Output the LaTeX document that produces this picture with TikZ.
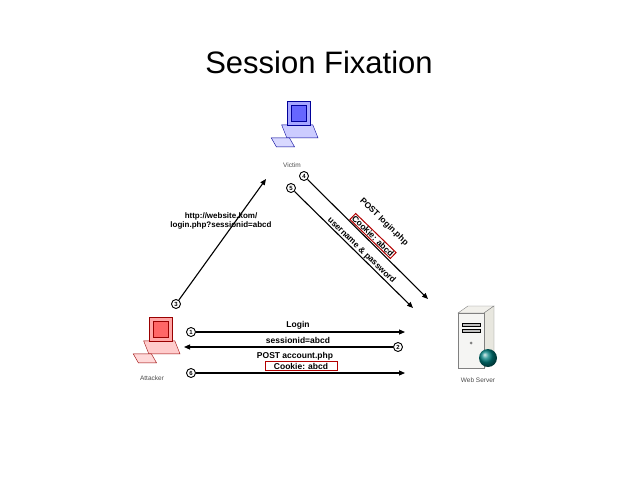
\documentclass[tikz,border=0pt]{standalone}
\usepackage{fontspec}
\setmainfont{Liberation Sans}
\usetikzlibrary{arrows.meta}
\begin{document}
\begin{tikzpicture}[x=1pt,y=-1pt,
  num/.style={circle,draw,line width=0.9pt,inner sep=0pt,minimum size=9pt,font=\fontsize{6}{6}\selectfont\bfseries},
  lbl/.style={font=\fontsize{8.5}{9}\selectfont\bfseries,inner sep=0.5pt},
  dlbl/.style={font=\fontsize{8.5}{8.5}\selectfont\bfseries,inner sep=0.5pt,rotate=-44},
  small/.style={font=\fontsize{6.5}{7}\selectfont,text=black!70},
  redbox/.style={draw=red!70!black,line width=1pt,inner sep=1pt},
  arr/.style={line width=1.1pt,-{Triangle[length=6pt,width=5pt]}}]
\useasboundingbox (0,0) rectangle (638,479);
\node (title) at (319,62) {\fontsize{31}{34}\selectfont Session Fixation};
% Victim icon
\begin{scope}[shift={(292,130)},scale=1.3]
 \draw[fill=blue!20,draw=blue!60!black] (-8,-4) -- (16,-4) -- (20,6) -- (-4,6) -- cycle;
 \draw[fill=blue!35,draw=blue!60!black] (-4,-22) rectangle (14,-4);
 \draw[fill=blue!60,draw=blue!60!black] (-1,-19) rectangle (11,-7);
 \draw[fill=blue!15,draw=blue!60!black] (-16,6) -- (-2,6) -- (2,13) -- (-12,13) -- cycle;
\end{scope}
\node[small] (victim) at (292,165) {Victim};
% Attacker icon
\begin{scope}[shift={(154,346)},scale=1.3]
 \draw[fill=red!20,draw=red!60!black] (-8,-4) -- (16,-4) -- (20,6) -- (-4,6) -- cycle;
 \draw[fill=red!35,draw=red!60!black] (-4,-22) rectangle (14,-4);
 \draw[fill=red!60,draw=red!60!black] (-1,-19) rectangle (11,-7);
 \draw[fill=red!15,draw=red!60!black] (-16,6) -- (-2,6) -- (2,13) -- (-12,13) -- cycle;
\end{scope}
\node[small] (attacker) at (152,378) {Attacker};
% Server icon
\begin{scope}[shift={(476,338)}]
 \draw[fill=yellow!15!gray!15,draw=gray] (-18,-25) -- (-8,-32) -- (18,-32) -- (8,-25) -- cycle;
 \draw[fill=yellow!15!gray!25,draw=gray] (8,-25) -- (18,-32) -- (18,22) -- (8,30) -- cycle;
 \draw[fill=yellow!10!gray!10,draw=gray] (-18,-25) rectangle (8,30);
 \draw[fill=gray!50] (-14,-15) rectangle (4,-12);
 \draw[fill=gray!50] (-14,-9) rectangle (4,-6);
 \fill[gray] (-5,5) circle (1.5);
 \shade[ball color=green!50!blue] (12,20) circle (9);
\end{scope}
\node[small] (server) at (478,380) {Web Server};
% numbered markers
\node[num] (n1) at (191,332) {1};
\node[num] (n2) at (398,347) {2};
\node[num] (n3) at (176,304) {3};
\node[num] (n4) at (304,176) {4};
\node[num] (n5) at (291,188) {5};
\node[num] (n6) at (191,373) {6};
\coordinate (e1) at (405,332);
\coordinate (e2) at (184,347);
\coordinate (e3) at (266,179);
\coordinate (e4) at (428,299);
\coordinate (e5) at (413,308);
\coordinate (e6) at (405,373);
\draw[arr] (n1) -- (e1);
\draw[arr] (n2) -- (e2);
\draw[arr] (n3) -- (e3);
\draw[arr] (n4) -- (e4);
\draw[arr] (n5) -- (e5);
\draw[arr] (n6) -- (e6);
% labels
\node[lbl] (login) at (298,325) {Login};
\node[lbl] (sess) at (298,340) {sessionid=abcd};
\node[lbl] (postacc) at (295,356) {POST account.php};
\node[lbl,redbox,minimum width=72pt] (cook6) at (301,366) {Cookie: abcd};
\node[lbl,align=center,font=\fontsize{8}{9}\selectfont\bfseries] (url) at (221,221) {http://website.kom/\\login.php?sessionid=abcd};
\node[dlbl] (postlogin) at (384,222) {POST login.php};
\node[dlbl,redbox] (cook4) at (373,236) {Cookie: abcd};
\node[dlbl] (userpw) at (361.5,250.5) {username \& password};
\end{tikzpicture}
\end{document}
